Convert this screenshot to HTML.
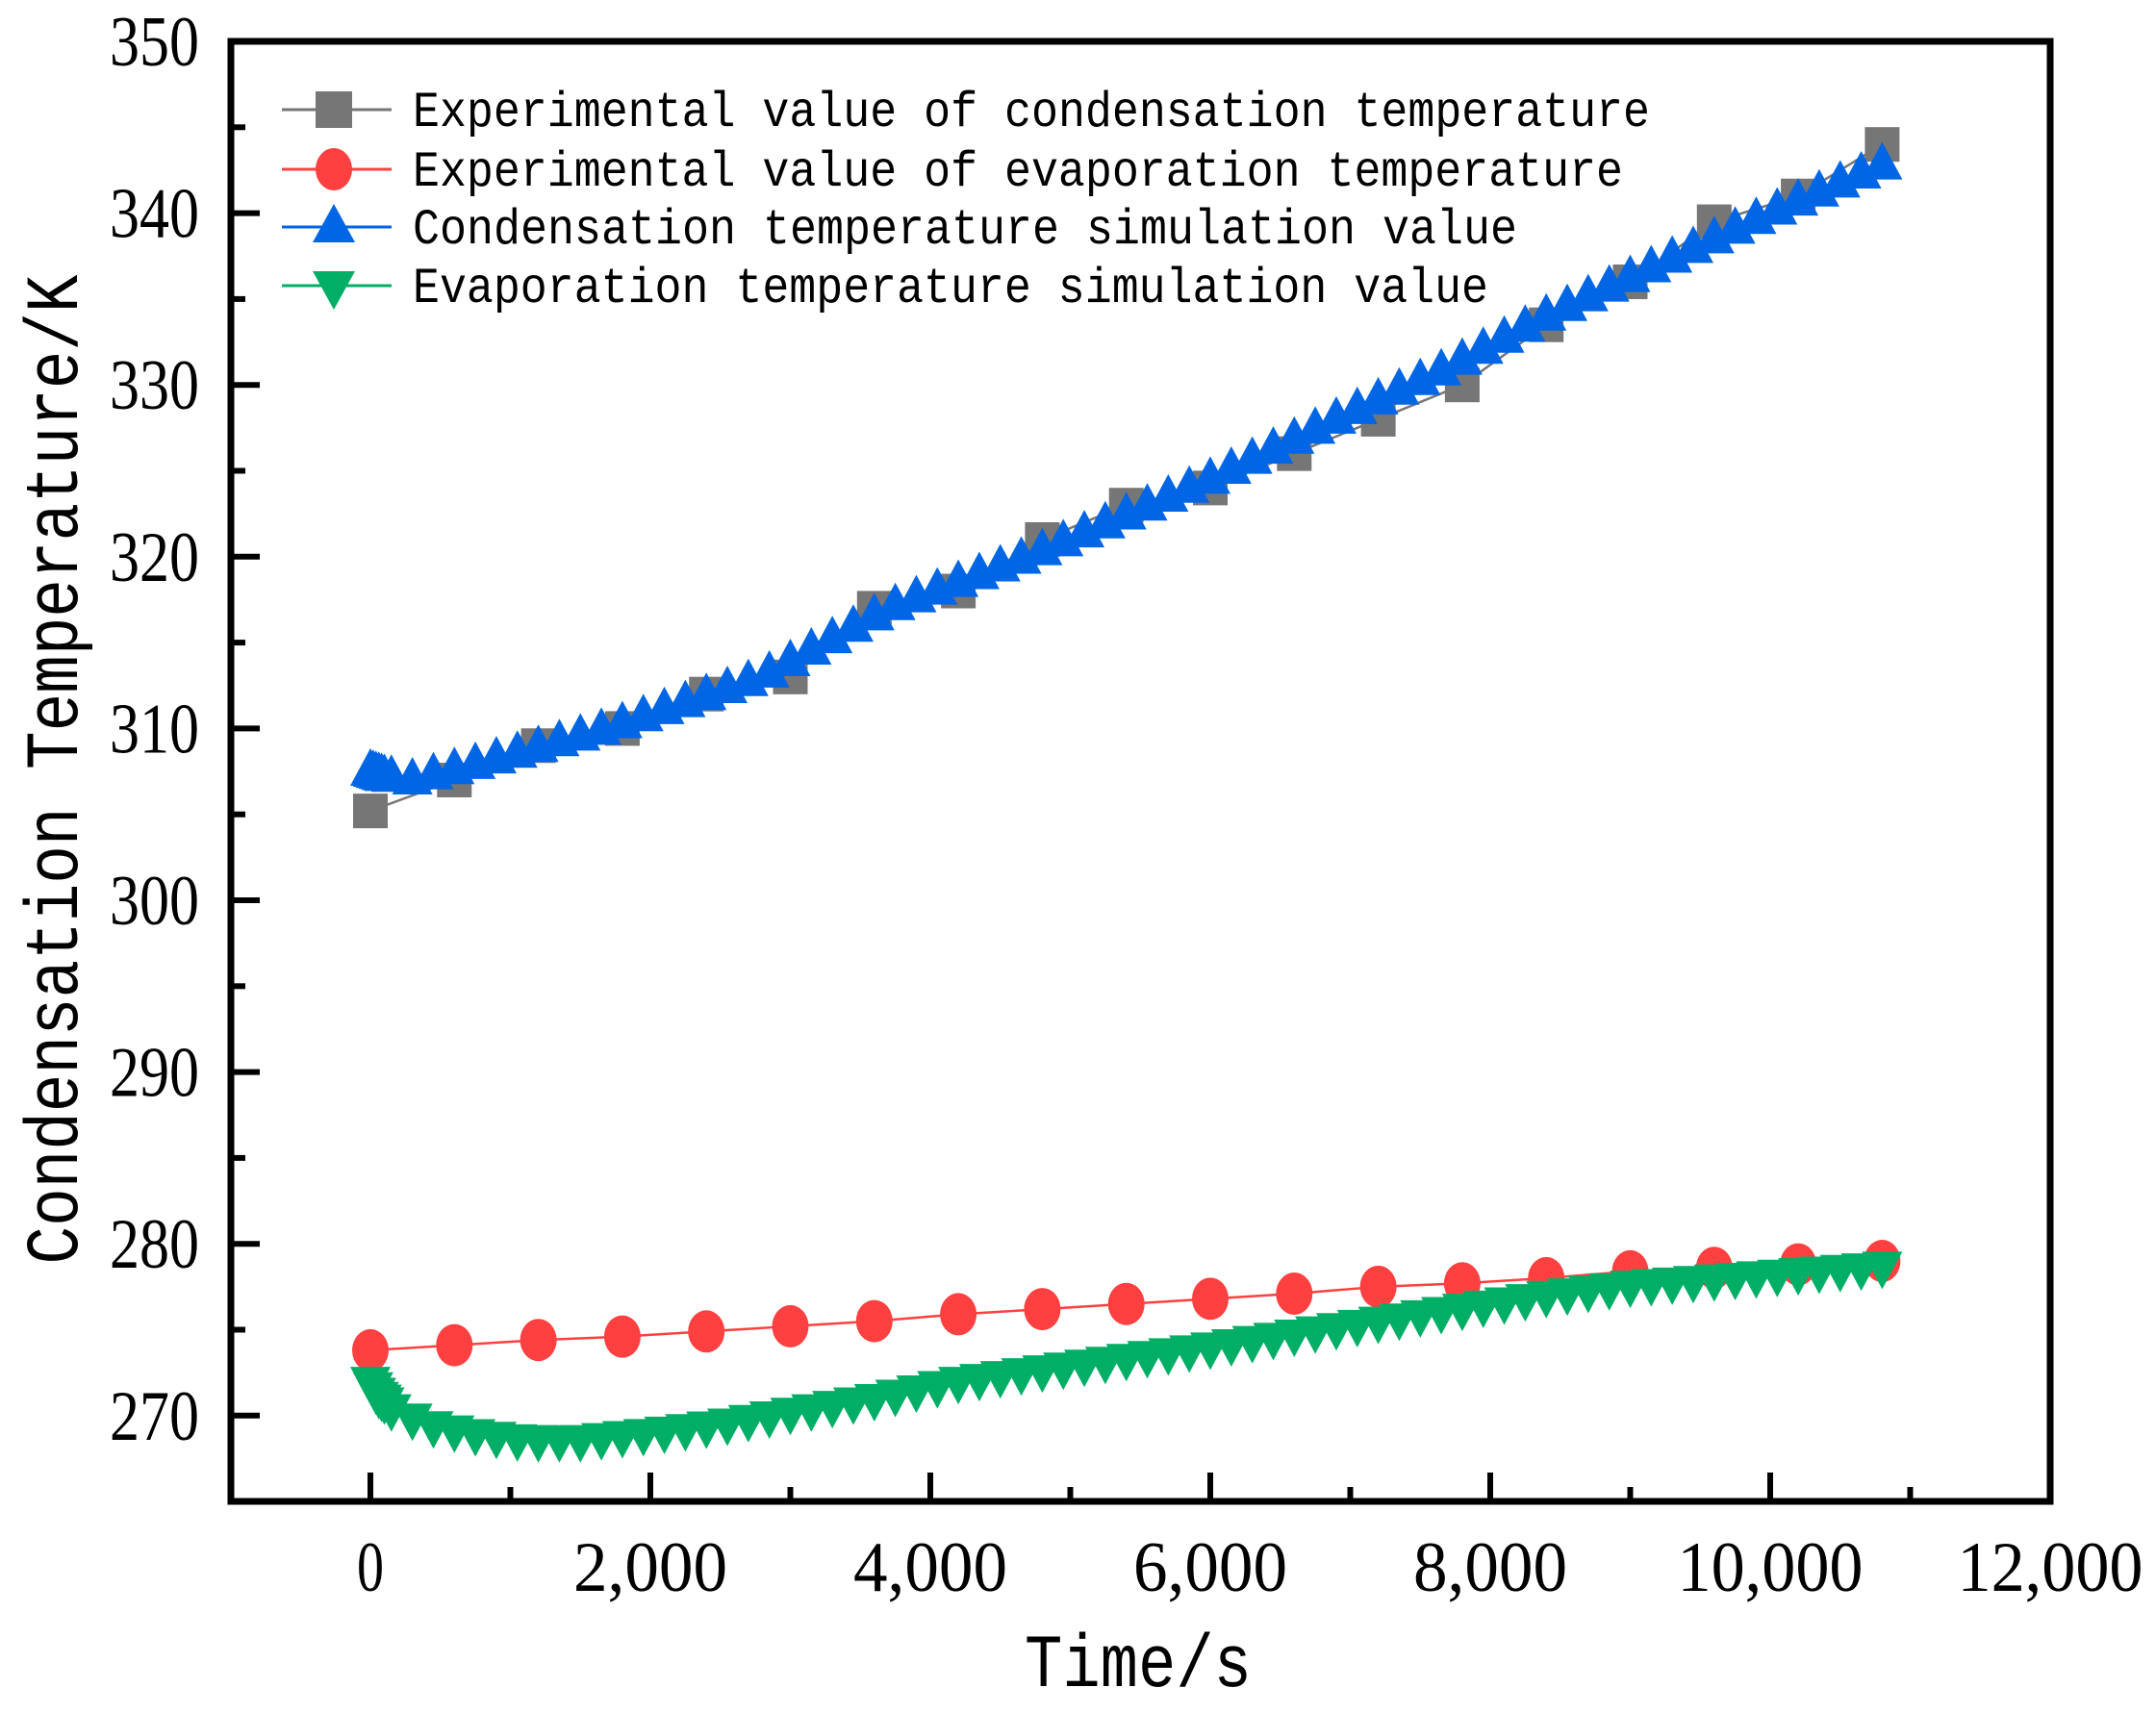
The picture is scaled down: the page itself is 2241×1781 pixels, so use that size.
<!DOCTYPE html>
<html><head><meta charset="utf-8"><style>html,body{margin:0;padding:0;background:#fff}svg{display:block}</style></head>
<body>
<svg id="s" width="2241" height="1781" xmlns="http://www.w3.org/2000/svg" font-family="Liberation Serif, serif">
<rect width="2241" height="1781" fill="#fff"/>
<g id="plot"></g>
<g id="axes"></g>
<g font-family="Liberation Mono, monospace" font-size="52" fill="#000">
<line x1="293" y1="114" x2="407" y2="114" stroke="#767676" stroke-width="3"/>
<rect x="328" y="95" width="38" height="38" fill="#767676"/>
<text x="429" y="131" textLength="1286" lengthAdjust="spacingAndGlyphs">Experimental value of condensation temperature</text>
<line x1="293" y1="176" x2="407" y2="176" stroke="#FF4040" stroke-width="3"/>
<ellipse cx="347" cy="176" rx="19" ry="22" fill="#FF4040"/>
<text x="429" y="193" textLength="1258" lengthAdjust="spacingAndGlyphs">Experimental value of evaporation temperature</text>
<line x1="293" y1="236" x2="407" y2="236" stroke="#0066E6" stroke-width="3"/>
<polygon points="347,212 369,252 325,252" fill="#0066E6"/>
<text x="429" y="253" textLength="1148" lengthAdjust="spacingAndGlyphs">Condensation temperature simulation value</text>
<line x1="293" y1="297" x2="407" y2="297" stroke="#00AE66" stroke-width="3"/>
<polygon points="325,282 369,282 347,322" fill="#00AE66"/>
<text x="429" y="314" textLength="1118" lengthAdjust="spacingAndGlyphs">Evaporation temperature simulation value</text>
</g>
<text x="1183" y="1753" font-family="Liberation Mono, monospace" font-size="78" text-anchor="middle" textLength="236" lengthAdjust="spacingAndGlyphs">Time/s</text>
<text transform="translate(80,800) rotate(-90)" font-family="Liberation Mono, monospace" font-size="78" text-anchor="middle" textLength="1029" lengthAdjust="spacingAndGlyphs">Condensation Temperature/K</text>
</svg>
<script>
const NS="http://www.w3.org/2000/svg";
const L=240,R=2131,T=43,B=1561;
const X=t=>385+t*0.1455;
const Y=v=>43+(350-v)*17.86;
function el(p,n,a){const e=document.createElementNS(NS,n);for(const k in a)e.setAttribute(k,a[k]);p.appendChild(e);return e;}
const plot=document.getElementById('plot'),axes=document.getElementById('axes');
function interp(pts,t){for(let i=0;i<pts.length-1;i++){if(t>=pts[i][0]&&t<=pts[i+1][0]){const f=(t-pts[i][0])/(pts[i+1][0]-pts[i][0]);return pts[i][1]+f*(pts[i+1][1]-pts[i][1]);}}return pts[pts.length-1][1];}
const ce=[305.2,307,309,310,312,313,317,318,321,323,324,326,328,330,333.5,336,339.5,341,344];
const ee=[273.8,274.1,274.4,274.6,274.9,275.2,275.5,275.9,276.2,276.5,276.8,277.1,277.5,277.7,278,278.4,278.6,278.8,279];
const cs=[[0,307.5],[100,307.2],[300,307],[800,308],[1700,310],[2800,313],[3700,317],[4700,320],[6000,324.5],[6900,328],[7700,331],[8400,334],[9200,337],[10000,340],[10800,342.8]];
const es=[[0,272],[50,271.2],[150,270.4],[400,269.5],[700,269],[1100,268.6],[1500,268.6],[2000,269],[2500,269.5],[3000,270.2],[3600,271],[4200,272],[5100,273],[6000,274],[6800,275],[7600,276],[8400,277],[9000,277.6],[10000,278.2],[10800,278.7]];
let ts=[0,20,40,60,80,100,150];for(let t=300;t<=10800;t+=150)ts.push(t);
function poly(pts,c){el(plot,'polyline',{points:pts.map(p=>X(p[0])+','+Y(p[1])).join(' '),fill:'none',stroke:c,'stroke-width':2.5});}
poly(ce.map((v,i)=>[i*600,v]),'#767676');
poly(ee.map((v,i)=>[i*600,v]),'#FF4040');
poly(ts.map(t=>[t,interp(cs,t)]),'#0066E6');
poly(ts.map(t=>[t,interp(es,t)]),'#00AE66');
ce.forEach((v,i)=>el(plot,'rect',{x:X(i*600)-18,y:Y(v)-18,width:36,height:36,fill:'#767676'}));
ee.forEach((v,i)=>el(plot,'ellipse',{cx:X(i*600),cy:Y(v),rx:19,ry:22,fill:'#FF4040'}));
ts.forEach(t=>{const x=X(t),y=Y(interp(cs,t));el(plot,'polygon',{points:`${x},${y-24} ${x+21},${y+15} ${x-21},${y+15}`,fill:'#0066E6'});});
ts.forEach(t=>{const x=X(t),y=Y(interp(es,t));el(plot,'polygon',{points:`${x-21},${y-15} ${x+21},${y-15} ${x},${y+24}`,fill:'#00AE66'});});
el(axes,'rect',{x:L,y:T,width:R-L,height:B-T,fill:'none',stroke:'#000','stroke-width':7});
for(let t=-1000;t<=12000;t+=1000){const x=X(t);if(x<L+5||x>R-5)continue;const maj=t%2000==0;el(axes,'line',{x1:x,y1:B,x2:x,y2:B-(maj?30:15),stroke:'#000','stroke-width':6});}
for(let t=0;t<=12000;t+=2000){const s=t==0?'0':(t/1000)+',000';const w=t==0?28:(t>=10000?193:160);const e=el(axes,'text',{x:X(t),y:1654,'font-size':74,'text-anchor':'middle',textLength:w,lengthAdjust:'spacingAndGlyphs'});e.textContent=s;}
for(let v=270;v<=350;v+=5){const y=Y(v);const maj=v%10==0;if(v<350)el(axes,'line',{x1:L,y1:y,x2:L+(maj?30:15),y2:y,stroke:'#000','stroke-width':6});if(maj){const e=el(axes,'text',{x:207,y:y+25,'font-size':74,'text-anchor':'end',textLength:93,lengthAdjust:'spacingAndGlyphs'});e.textContent=v;}}
</script>
</body></html>
